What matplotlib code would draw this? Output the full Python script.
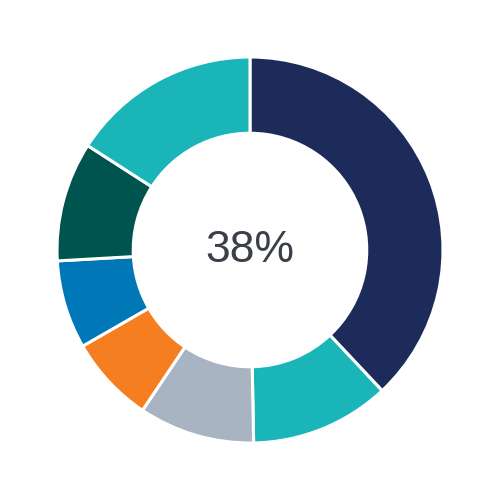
import matplotlib
matplotlib.use("Agg")
import matplotlib.pyplot as plt

labels = ["A", "B", "C", "D", "E", "F", "G"]
values = [38, 11.7, 9.7, 7.3, 7.4, 10, 15.9]
colors = ["#1c2b5a", "#1ab5b8", "#a9b4c2", "#f47e20", "#0077b6", "#005450", "#1ab5b8"]
center_label = "38%"

fig = plt.figure(figsize=(5, 5), dpi=100)
ax = fig.add_axes([0, 0, 1, 1])
ax.pie(values, colors=colors, startangle=90, counterclock=False, radius=1,
       wedgeprops=dict(width=0.395, edgecolor="white", linewidth=2.2))
lim = 250 / 193
ax.set_xlim(-lim, lim)
ax.set_ylim(-lim, lim)
ax.set_aspect("equal")
ax.axis("off")
ax.text(0, 0.0, center_label, ha="center", va="center", fontsize=32,
        color="#3a3f48", family="Liberation Sans")
fig.savefig("out.png", dpi=100)
